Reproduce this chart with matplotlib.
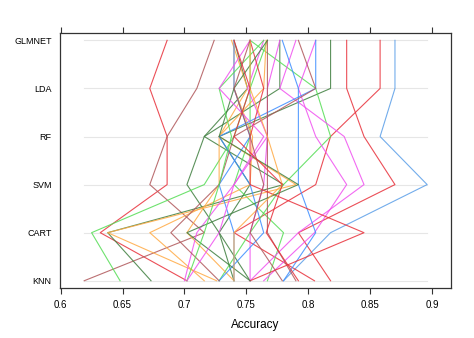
import numpy as np
import matplotlib.pyplot as plt

plt.rcParams['font.family'] = ['Liberation Sans', 'DejaVu Sans']

# model order, bottom to top
models = ['KNN', 'CART', 'SVM', 'RF', 'LDA', 'GLMNET']

# accuracy of each resample (one entry per resample) for every model
knn    = [0.702, 0.619, 0.780, 0.805, 0.818, 0.753, 0.740, 0.673, 0.648, 0.767,
          0.728, 0.726, 0.716, 0.740, 0.700, 0.753, 0.764, 0.753, 0.740, 0.780,
          0.728, 0.790, 0.728, 0.753, 0.753, 0.702, 0.702, 0.740, 0.779, 0.792]
cart   = [0.632, 0.716, 0.818, 0.740, 0.792, 0.728, 0.728, 0.638, 0.625, 0.780,
          0.753, 0.638, 0.672, 0.702, 0.710, 0.792, 0.805, 0.753, 0.740, 0.806,
          0.764, 0.767, 0.689, 0.845, 0.702, 0.716, 0.728, 0.740, 0.753, 0.766]
svm    = [0.686, 0.672, 0.896, 0.806, 0.870, 0.753, 0.702, 0.780, 0.716, 0.740,
          0.780, 0.790, 0.753, 0.728, 0.740, 0.845, 0.831, 0.764, 0.728, 0.792,
          0.753, 0.767, 0.728, 0.753, 0.792, 0.728, 0.740, 0.779, 0.764, 0.779]
rf     = [0.686, 0.686, 0.858, 0.818, 0.845, 0.728, 0.716, 0.716, 0.740, 0.753,
          0.818, 0.728, 0.755, 0.728, 0.767, 0.829, 0.806, 0.767, 0.753, 0.792,
          0.728, 0.767, 0.740, 0.753, 0.728, 0.738, 0.764, 0.767, 0.753, 0.740]
lda    = [0.672, 0.710, 0.870, 0.858, 0.831, 0.818, 0.777, 0.751, 0.753, 0.753,
          0.806, 0.751, 0.740, 0.764, 0.751, 0.777, 0.792, 0.767, 0.740, 0.792,
          0.806, 0.767, 0.806, 0.764, 0.740, 0.728, 0.728, 0.753, 0.740, 0.753]
glmnet = [0.686, 0.724, 0.870, 0.858, 0.831, 0.818, 0.777, 0.740, 0.753, 0.767,
          0.753, 0.738, 0.740, 0.766, 0.764, 0.790, 0.806, 0.777, 0.740, 0.779,
          0.806, 0.767, 0.792, 0.753, 0.767, 0.764, 0.753, 0.753, 0.753, 0.740]

colors = ['#e8303a', '#b0575a', '#5a9ee8', '#e8303a', '#e8303a', '#3f7f3f',
          '#3f7f3f', '#3f7f3f', '#55dd55', '#55dd55', '#55dd55', '#ffaa44',
          '#ffaa44', '#ffaa44', '#f050f0', '#f050f0', '#f050f0', '#f050f0',
          '#3c8dff', '#3c8dff', '#3c8dff', '#b0575a', '#b0575a', '#e8303a',
          '#3f7f3f', '#55dd55', '#f050f0', '#ffaa44', '#b0575a', '#e8303a']

data = np.array([knn, cart, svm, rf, lda, glmnet])
ypos = np.arange(len(models))

fig = plt.figure(figsize=(4.74, 3.38), dpi=100)
ax = fig.add_axes([0.1266, 0.148, 0.825, 0.754])

# reference lines across the range of the data
for y in ypos:
    ax.plot([data.min(), data.max()], [y, y], color='#e6e6e6', lw=0.8, zorder=0)

for i in range(data.shape[1]):
    ax.plot(data[:, i], ypos, color=colors[i], lw=0.8, alpha=0.85)

ax.set_xlim(0.5995, 0.9153)
ax.set_ylim(-0.15, 5.15)
ax.set_yticks(ypos)
ax.set_yticklabels(models, fontsize=6.5)
ax.tick_params(axis='y', length=0, pad=6)
ax.set_xticks([0.6, 0.65, 0.7, 0.75, 0.8, 0.85, 0.9])
ax.set_xticklabels(['0.6', '0.65', '0.7', '0.75', '0.8', '0.85', '0.9'], fontsize=7)
ax.tick_params(axis='x', top=True, direction='out', length=4, width=0.8,
               color='#333333', pad=5)
for s in ax.spines.values():
    s.set_color('#333333')
    s.set_linewidth(0.9)
ax.set_xlabel('Accuracy', fontsize=8.5, labelpad=6)

fig.savefig('out.png', dpi=100)
